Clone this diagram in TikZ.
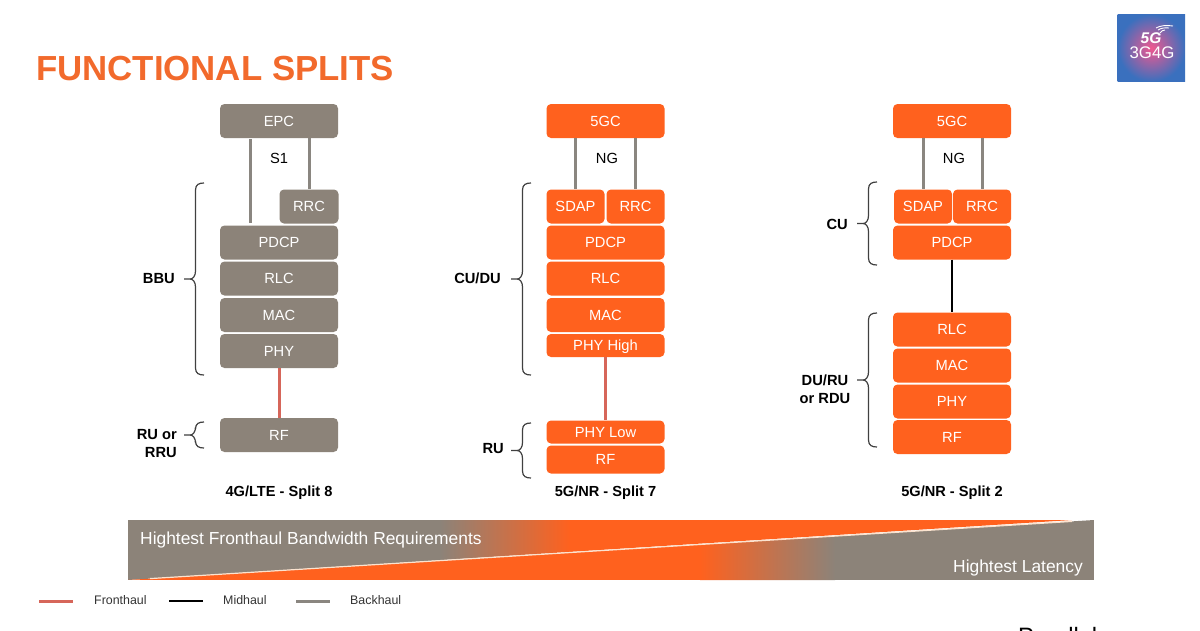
\documentclass[tikz,border=0pt]{standalone}
\usepackage{fontspec}
\setmainfont{Liberation Sans}
\usetikzlibrary{calc}
\definecolor{grayb}{HTML}{8C8379}
\definecolor{orng}{HTML}{FF611E}
\definecolor{fronth}{HTML}{D6665A}
\definecolor{titleo}{HTML}{F26A2C}
\definecolor{backh}{HTML}{8A8680}
\definecolor{logoin}{HTML}{F0588F}
\definecolor{logoout}{HTML}{3A70BE}
\definecolor{cream}{HTML}{FBE3CF}
\tikzset{x=1pt,y=-1pt,
 gbox/.style={rectangle,rounded corners=4.5pt,fill=grayb,text=white,font=\fontsize{14.7}{17}\selectfont,inner sep=0pt,anchor=center,text height=10.5pt,text depth=0pt},
 obox/.style={gbox,fill=orng},
 lab/.style={font=\fontsize{14.7}{18}\selectfont\bfseries,text=black,align=center,inner sep=0pt},
 plain/.style={font=\fontsize{14.7}{17}\selectfont,text=black,inner sep=0pt},
 capt/.style={font=\fontsize{14.6}{17}\selectfont\bfseries,text=black,inner sep=0pt},
 leg/.style={font=\fontsize{12.4}{14}\selectfont,text=black!80,inner sep=0pt,anchor=west},
 bk/.style={draw=backh,line width=3pt},
 fh/.style={draw=fronth,line width=3pt},
 mh/.style={draw=black,line width=2.6pt},
 brc/.style={draw=black!75,line width=1.2pt},
 banner/.style={inner sep=0pt,text=white,font=\fontsize{17.4}{20}\selectfont}}
\newcommand{\bx}[6]{\node[#1,minimum width=#4pt,minimum height=#5pt] (#2) at (#3) {#6};}
\newcommand{\curly}[3]{% x of the ends, y top, y bottom
 \draw[brc] (#1,#2) .. controls (#1-5,#2) and (#1-8.5,{#2+1.5}) .. (#1-8.5,{#2+7})
   -- (#1-8.5,{(#2+#3)/2-8}) .. controls (#1-8.5,{(#2+#3)/2-3}) and (#1-11,{(#2+#3)/2}) .. (#1-14,{(#2+#3)/2})
   -- (#1-20,{(#2+#3)/2}) (#1-14,{(#2+#3)/2}) .. controls (#1-11,{(#2+#3)/2}) and (#1-8.5,{(#2+#3)/2+3}) .. (#1-8.5,{(#2+#3)/2+8})
   -- (#1-8.5,{#3-7}) .. controls (#1-8.5,{#3-1.5}) and (#1-5,#3) .. (#1,#3);}
\begin{document}
\begin{tikzpicture}
\useasboundingbox (0,0) rectangle (1200,630);
\fill[white] (0,0) rectangle (1200,630);
\node[anchor=west,inner sep=0pt,text=titleo,font=\fontsize{34.8}{38}\selectfont\bfseries] (title) at (36,69) {FUNCTIONAL SPLITS};
% logo
\node[inner sep=0pt,minimum size=67.5pt,anchor=north west,inner color=logoin,outer color=logoout] (logo) at (1117.5,14) {};
\node[text=white,font=\fontsize{15.5}{16}\selectfont\bfseries\itshape,inner sep=0pt] (logoa) at (1151,38) {5G};
\node[text=white,font=\fontsize{16.8}{18}\selectfont,inner sep=0pt] (logob) at (1152,53) {3G4G};
\draw[white,line width=0.9pt] (1160,33) .. controls (1161,31) and (1163,30) .. (1165,30);
\draw[white,line width=0.9pt] (1158,30) .. controls (1161,28) and (1165,27.5) .. (1169,28);
\draw[white,line width=0.9pt] (1156,28) .. controls (1160,25.5) and (1167,25) .. (1173,26);
% col 1
\bx{gbox}{epc}{279,121}{118}{34}{EPC}
\bx{gbox}{rrc1}{309,206.5}{59}{34}{RRC}
\bx{gbox}{pdcp1}{279,242.5}{118}{34}{PDCP}
\bx{gbox}{rlc1}{279,278.5}{118}{34}{RLC}
\bx{gbox}{mac1}{279,315}{118}{34}{MAC}
\bx{gbox}{phy1}{279,351}{118}{34}{PHY}
\bx{gbox}{rf1}{279,435}{118}{34}{RF}
\coordinate (s1a) at (250.5,139); \coordinate (s1b) at (250.5,223);
\draw[bk] (s1a) -- (s1b);
\draw[bk] (rrc1.north |- epc.south) -- (rrc1.north);
\draw[fh] (phy1.south) -- (rf1.north);
\node[plain] (s1) at (279,158) {S1};
\curly{204}{183}{375}
\node[lab,anchor=east] (bbu) at (175,278.5) {BBU};
\curly{204}{422}{448}
\node[lab,align=right,anchor=east] (ru1) at (177,444) {RU or\\RRU};
\node[capt] (c1) at (279,493) {4G/LTE - Split 8};
% col 2
\bx{obox}{gc2}{605.5,121}{118}{34}{5GC}
\bx{obox}{sdap2}{575.5,206.5}{58}{34}{SDAP}
\bx{obox}{rrc2}{635.5,206.5}{58}{34}{RRC}
\bx{obox}{pdcp2}{605.5,242.5}{118}{34}{PDCP}
\bx{obox}{rlc2}{605.5,278.5}{118}{34}{RLC}
\bx{obox}{mac2}{605.5,315}{118}{34}{MAC}
\bx{obox}{phyh2}{605.5,345.5}{118}{23}{PHY High}
\bx{obox}{phyl2}{605.5,432}{118}{23}{PHY Low}
\bx{obox}{rf2}{605.5,459.5}{118}{28}{RF}
\draw[bk] (sdap2.north |- gc2.south) -- (sdap2.north);
\draw[bk] (rrc2.north |- gc2.south) -- (rrc2.north);
\draw[fh] (phyh2.south) -- (phyl2.north);
\node[plain] (ng2) at (607,158) {NG};
\curly{531}{183}{375}
\node[lab,anchor=east] (cudu) at (501,278.5) {CU/DU};
\curly{531}{423}{478}
\node[lab,anchor=east] (ru2) at (504,449) {RU};
\node[capt] (c2) at (605.5,493) {5G/NR - Split 7};
% col 3
\bx{obox}{gc3}{952,121}{118}{34}{5GC}
\bx{obox}{sdap3}{923,206.5}{58}{34}{SDAP}
\bx{obox}{rrc3}{982,206.5}{58}{34}{RRC}
\bx{obox}{pdcp3}{952,242.5}{118}{34}{PDCP}
\bx{obox}{rlc3}{952,329.5}{118}{34}{RLC}
\bx{obox}{mac3}{952,365.5}{118}{34}{MAC}
\bx{obox}{phy3}{952,401.5}{118}{34}{PHY}
\bx{obox}{rf3}{952,437}{118}{34}{RF}
\draw[bk] (sdap3.north |- gc3.south) -- (sdap3.north);
\draw[bk] (rrc3.north |- gc3.south) -- (rrc3.north);
\draw[mh] (pdcp3.south) -- (rlc3.north);
\node[plain] (ng3) at (954,158) {NG};
\curly{877}{182}{265}
\node[lab,anchor=east] (cu) at (848,224.5) {CU};
\curly{877}{313}{447}
\node[lab] (duru) at (825,389) {DU/RU\\or RDU};
\node[capt] (c3) at (952,493) {5G/NR - Split 2};
% banner: upper wedge, grey into orange
\begin{scope}
\clip (128,520) -- (1072,520) -- (128,580) -- cycle;
\fill[grayb] (128,520) rectangle (440,580);
\shade[left color=grayb,right color=orng] (440,520) rectangle (570,580);
\fill[orng] (570,520) rectangle (1072,580);
\end{scope}
% banner: lower wedge, orange into grey
\begin{scope}
\clip (128,580) -- (1094,520) -- (1094,580) -- cycle;
\fill[orng] (128,520) rectangle (700,580);
\shade[left color=orng,right color=grayb] (700,520) rectangle (835,580);
\fill[grayb] (835,520) rectangle (1094,580);
\end{scope}
\draw[cream,line width=1.2pt] (150,578.6) -- (1072,521.4);
\node[banner,anchor=west] (hf) at (140,539.5) {Hightest Fronthaul Bandwidth Requirements};
\node[banner,anchor=east] (hl) at (1083,567.5) {Hightest Latency};
% legend
\coordinate (l1a) at (39,601); \coordinate (l1b) at (73,601);
\coordinate (l2a) at (169,601); \coordinate (l2b) at (203,601);
\coordinate (l3a) at (296,601); \coordinate (l3b) at (330,601);
\draw[fh] (l1a) -- (l1b); \draw[mh] (l2a) -- (l2b); \draw[bk] (l3a) -- (l3b);
\node[leg] (lf) at (94,600) {Fronthaul};
\node[leg] (lm) at (223,600) {Midhaul};
\node[leg] (lb) at (350,600) {Backhaul};
\begin{scope}
\clip (0,0) rectangle (1200,630);
\node[anchor=base west,inner sep=0pt,font=\fontsize{23.7}{26}\selectfont,text=black] (par) at (1018,644.5) {Parallel};
\end{scope}
\end{tikzpicture}
\end{document}
